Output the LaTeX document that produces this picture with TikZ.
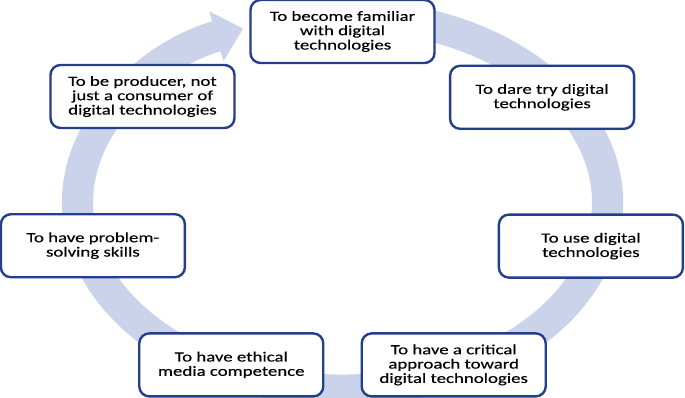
\documentclass[tikz,border=0pt]{standalone}
\usepackage{fontspec}
\setmainfont{Carlito}[FakeStretch=1.34, FakeBold=0.3]
\usepackage{tikz}
\usetikzlibrary{arrows.meta, positioning}
\definecolor{ringblue}{HTML}{CBD3EA}
\definecolor{navy}{HTML}{233E8B}

\begin{document}
\begin{tikzpicture}[
    font=\fontsize{10pt}{10.2pt}\selectfont,
    goal/.style={draw=navy, fill=white, line width=1.7pt, rounded corners=0.25cm,
        minimum width=4.6cm, minimum height=1.575cm, inner sep=0pt, align=center},
    ring/.style={draw=ringblue, line width=0.78cm,
        -{Triangle[length=0.7cm, width=1.25cm]}}
]
\useasboundingbox (-8.5625,-4.9625) rectangle (8.5625,4.9625);

% =====================================================
% CYCLE ARROW (behind the boxes)
% =====================================================
\coordinate (hub) at (0,-0.1);
\draw[ring] (hub) ++(80:6.625 and 4.69)
    arc[start angle=80, end angle=-248, x radius=6.625, y radius=4.69];

% =====================================================
% GOALS (clockwise from the top)
% =====================================================
\node[goal] (familiar) at ( 0.00, 4.175) {To become familiar\\with digital\\technologies};
\node[goal] (dare)     at ( 4.99, 2.53)  {To dare try digital\\technologies};
\node[goal] (use)      at ( 6.21,-1.19)  {To use digital\\technologies};
\node[goal] (critical) at ( 2.78,-4.16)  {To have a critical\\approach toward\\digital technologies};
\node[goal] (ethical)  at (-2.78,-4.16)  {To have ethical\\media competence};
\node[goal] (problem)  at (-6.24,-1.18)  {To have problem-\\solving skills};
\node[goal] (producer) at (-5.00, 2.55)  {To be producer, not\\just a consumer of\\digital technologies};

\end{tikzpicture}
\end{document}
